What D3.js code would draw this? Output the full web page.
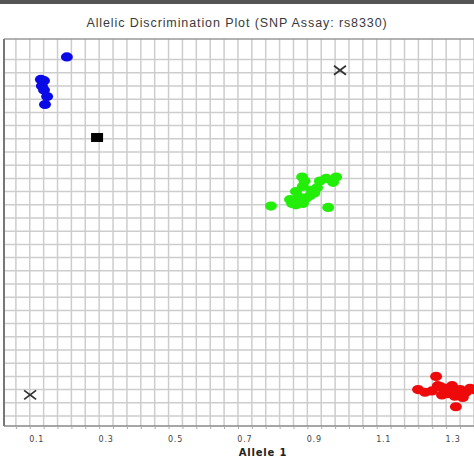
<!DOCTYPE html>
<html><head><meta charset="utf-8">
<script src="https://cdn.jsdelivr.net/npm/d3@7"></script>
<style>html,body{margin:0;padding:0;background:#fff;}svg{display:block;}</style>
</head><body>
<script>
const title = "Allelic Discrimination Plot (SNP Assay: rs8330)";
const xLabel = "Allele 1";
const xTickLabels = [0.1, 0.3, 0.5, 0.7, 0.9, 1.1, 1.3];

const allele2X = [0.187, 0.112, 0.121, 0.115, 0.121, 0.130, 0.124];
const allele2Y = [2.82, 2.65, 2.64, 2.60, 2.57, 2.52, 2.46];

const heteroX = [0.775, 0.940, 0.865, 0.867, 0.847, 0.830, 0.847, 0.867, 0.888, 0.908, 0.916, 0.934, 0.954, 0.963, 0.893, 0.876, 0.856, 0.836, 0.872, 0.900];
const heteroY = [1.69, 1.68, 1.91, 1.84, 1.80, 1.74, 1.70, 1.71, 1.77, 1.83, 1.88, 1.90, 1.87, 1.91, 1.81, 1.75, 1.76, 1.71, 1.88, 1.79];

const allele1X = [1.199, 1.219, 1.251, 1.256, 1.277, 1.297, 1.320, 1.337, 1.349, 1.268, 1.285, 1.305, 1.308, 1.328, 1.239, 1.360, 1.290, 1.265];
const allele1Y = [0.30, 0.28, 0.40, 0.33, 0.31, 0.33, 0.30, 0.28, 0.31, 0.26, 0.27, 0.25, 0.17, 0.24, 0.29, 0.30, 0.30, 0.32];

const ntcX = [0.274];
const ntcY = [2.21];

const undetX = [0.974, 0.081];
const undetY = [2.72, 0.26];

const W = 474, H = 474;
const svg = d3.select("body").append("svg").attr("width", W).attr("height", H);

const x = d3.scaleLinear().domain([0, 1.4]).range([2, 2 + 1.4 * 347]);
const y = d3.scaleLinear().domain([0, 3]).range([429.2, 429.2 - 3 * 132]);

const frameL = 4, frameT = 39, frameB = 426, frameR = x(1.4);

svg.append("rect").attr("x", 0).attr("y", 0).attr("width", W).attr("height", 4).attr("fill", "#555");

svg.append("text").attr("x", 237).attr("y", 27).attr("text-anchor", "middle")
  .attr("font-family", "Liberation Sans, Arial, sans-serif").attr("font-size", 12.5)
  .attr("letter-spacing", 0.9)
  .attr("fill", "#3a3a3a").text(title);

const plot = svg.append("g");
const vLines = d3.range(1, 35).map(k => k * 0.04);
plot.selectAll("line.vg").data(vLines).join("line").attr("class", "vg")
  .attr("x1", d => x(d)).attr("x2", d => x(d)).attr("y1", frameT).attr("y2", frameB)
  .attr("stroke", "#cdcdcd").attr("stroke-width", 1.5);
const hLines = d3.range(1, 29).map(k => k * 0.1).filter(v => y(v) > frameT + 2);
plot.selectAll("line.hg").data(hLines).join("line").attr("class", "hg")
  .attr("x1", frameL).attr("x2", frameR).attr("y1", d => y(d)).attr("y2", d => y(d))
  .attr("stroke", "#cdcdcd").attr("stroke-width", 1.5);

plot.append("line").attr("x1", frameL).attr("x2", frameR).attr("y1", frameT).attr("y2", frameT)
  .attr("stroke", "#999").attr("stroke-width", 1.5);
plot.append("line").attr("x1", frameL).attr("x2", frameR).attr("y1", frameB).attr("y2", frameB)
  .attr("stroke", "#888").attr("stroke-width", 1.5);
plot.append("line").attr("x1", frameL).attr("x2", frameL).attr("y1", frameT).attr("y2", frameB)
  .attr("stroke", "#777").attr("stroke-width", 2);

const xAxis = d3.axisBottom(x).tickValues(vLines).tickSize(3).tickFormat("");
const ax = svg.append("g").attr("transform", `translate(0,${frameB})`).call(xAxis);
ax.select(".domain").remove();
ax.selectAll(".tick line").attr("stroke", "#aaa");

svg.selectAll("text.xt").data(xTickLabels).join("text").attr("class", "xt")
  .attr("x", d => x(d)).attr("y", 442).attr("text-anchor", "middle")
  .attr("font-family", "DejaVu Sans, sans-serif").attr("font-size", 8)
  .attr("letter-spacing", 0.8)
  .attr("fill", "#444").text(d => d3.format(".1f")(d));

svg.append("text").attr("x", 263).attr("y", 456).attr("text-anchor", "middle")
  .attr("font-family", "DejaVu Sans, sans-serif").attr("font-size", 10).attr("font-weight", "bold")
  .attr("letter-spacing", 0.8)
  .attr("fill", "#222").text(xLabel);

function dots(xs, ys, color) {
  plot.append("g").selectAll("ellipse").data(xs.map((d, i) => [d, ys[i]])).join("ellipse")
    .attr("cx", d => x(d[0])).attr("cy", d => y(d[1])).attr("rx", 6).attr("ry", 4.6)
    .attr("fill", color);
}
dots(allele2X, allele2Y, "#0a0ae6");
dots(heteroX, heteroY, "#22ee0a");
dots(allele1X, allele1Y, "#ee0a0a");

plot.append("g").selectAll("rect").data(ntcX.map((d, i) => [d, ntcY[i]])).join("rect")
  .attr("x", d => x(d[0]) - 6).attr("y", d => y(d[1]) - 4.5).attr("width", 12).attr("height", 9)
  .attr("fill", "#000");

const xg = plot.append("g").selectAll("g").data(undetX.map((d, i) => [d, undetY[i]])).join("g")
  .attr("transform", d => `translate(${x(d[0])},${y(d[1])})`);
xg.append("line").attr("x1", -6).attr("y1", -4.5).attr("x2", 6).attr("y2", 4.5).attr("stroke", "#333").attr("stroke-width", 1.8);
xg.append("line").attr("x1", -6).attr("y1", 4.5).attr("x2", 6).attr("y2", -4.5).attr("stroke", "#333").attr("stroke-width", 1.8);
</script>
</body></html>
